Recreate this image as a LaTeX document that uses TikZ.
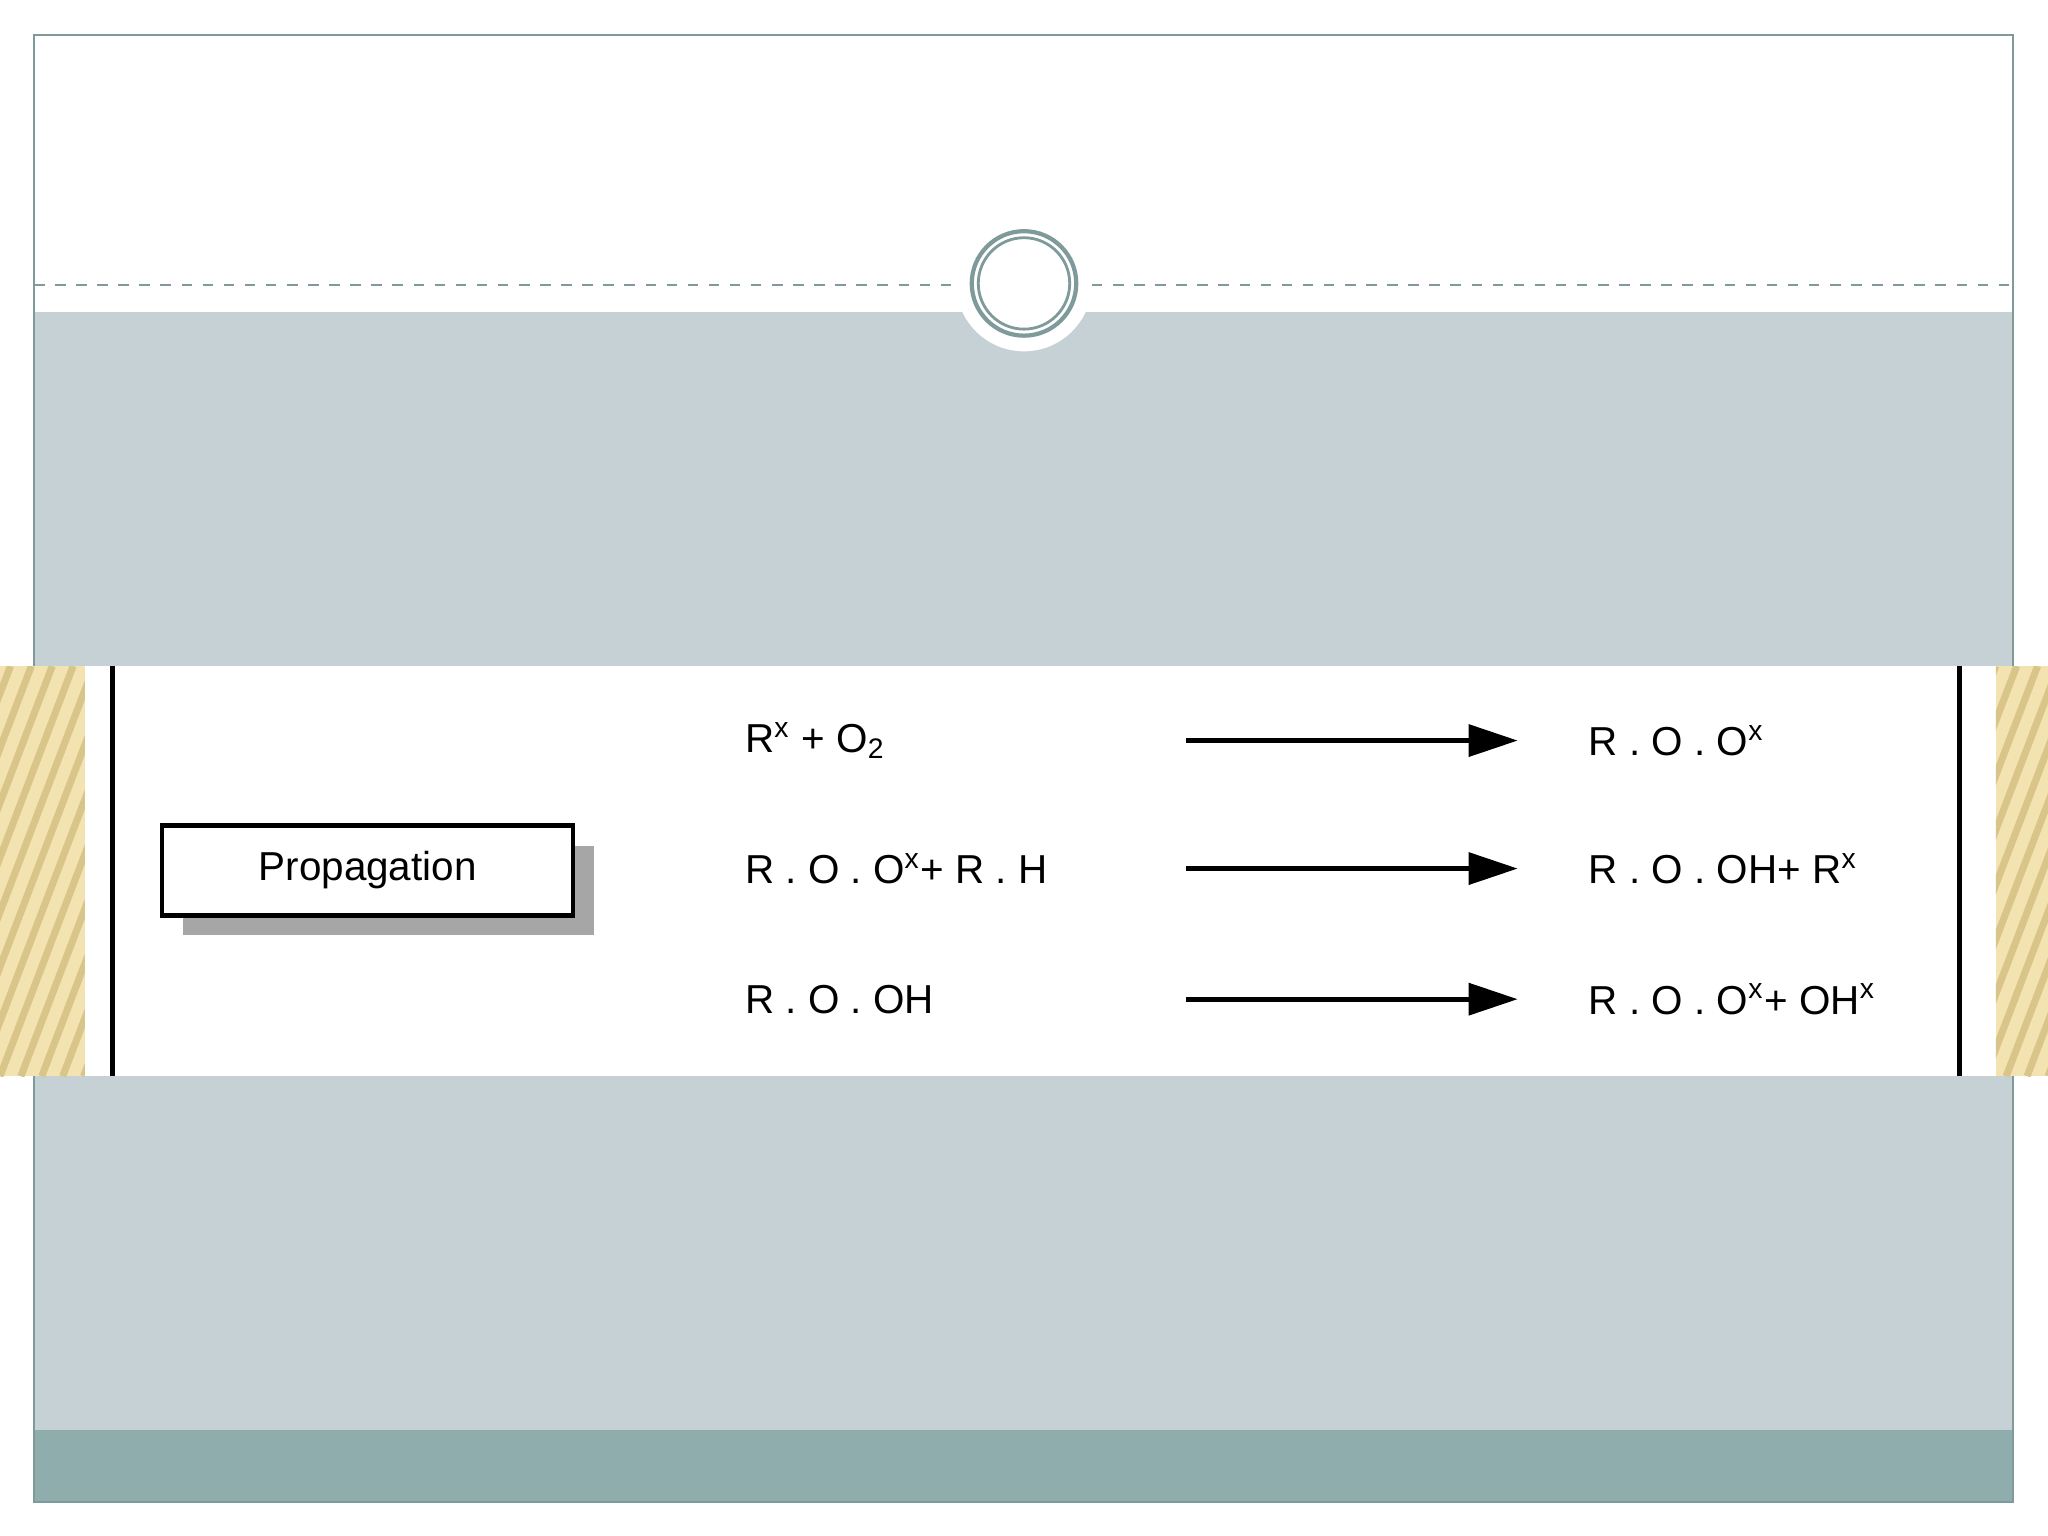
\documentclass[tikz,border=0pt]{standalone}
\usepackage{fontspec}
\setmainfont{Liberation Sans}
\usetikzlibrary{arrows.meta}
\definecolor{band}{HTML}{C5D1D5}
\definecolor{teal}{HTML}{8FADAD}
\definecolor{frame}{HTML}{7F9A9A}
\definecolor{gold}{HTML}{F3E3B0}
\definecolor{goldd}{HTML}{D9C48A}
\begin{document}
\begin{tikzpicture}[x=0.013061cm,y=-0.013061cm,
  eq/.style={anchor=west,inner sep=0pt,font=\fontsize{11.5}{13}\selectfont},
  rx/.style={-{Triangle[length=14pt,width=9pt]},line width=1.4pt}]
\useasboundingbox (0,0) rectangle (1568,1176);
\fill[white] (0,0) rectangle (1568,1176);
\fill[band] (26,239) rectangle (1541,1095);
\fill[teal] (26,1095) rectangle (1541,1150);
\draw[frame,line width=0.6pt] (26,27) rectangle (1541,1150);
\draw[frame,dashed,line width=0.5pt] (26,218) -- (733,218);
\draw[frame,dashed,line width=0.5pt] (836,218) -- (1541,218);
\fill[white] (784,217) circle (52);
\draw[frame,line width=1.2pt] (784,217) circle (40);
\draw[frame,line width=0.8pt] (784,217) circle (35);
% white strip
\fill[white] (0,510) rectangle (1568,824);
\begin{scope}
\clip (0,510) rectangle (65,824);
\fill[gold] (0,510) rectangle (65,824);
\foreach \i in {-20,...,20} \draw[goldd,line width=2pt] (\i*16,824) -- (\i*16+120,510);
\end{scope}
\begin{scope}
\clip (1528,510) rectangle (1568,824);
\fill[gold] (1528,510) rectangle (1568,824);
\foreach \i in {80,...,110} \draw[goldd,line width=2pt] (\i*16,824) -- (\i*16+120,510);
\end{scope}
\draw[line width=1.5pt] (86,510) -- (86,824);
\draw[line width=1.5pt] (1500,510) -- (1500,824);
% box
\fill[gray!70] (140,648) rectangle (455,716);
\draw[line width=1.2pt,fill=white] (124,632) rectangle (439,701);
\node[font=\fontsize{11.5}{13}\selectfont] (prop) at (281.5,666) {Propagation};
% equations
\node[eq] (l1) at (570,567) {R\textsuperscript{x} + O\textsubscript{2}};
\node[eq] (l2) at (570,665) {R . O . O\textsuperscript{x}+ R . H};
\node[eq] (l3) at (570,765) {R . O . OH};
\node[eq] (r1) at (1216,567) {R . O . O\textsuperscript{x}};
\node[eq] (r2) at (1216,665) {R . O . OH+ R\textsuperscript{x}};
\node[eq] (r3) at (1216,765) {R . O . O\textsuperscript{x}+ OH\textsuperscript{x}};
\coordinate (a1) at (908,567); \coordinate (b1) at (1162,567);
\coordinate (a2) at (908,665); \coordinate (b2) at (1162,665);
\coordinate (a3) at (908,765); \coordinate (b3) at (1162,765);
\draw[rx] (a1) -- (b1);
\draw[rx] (a2) -- (b2);
\draw[rx] (a3) -- (b3);
\end{tikzpicture}
\end{document}
